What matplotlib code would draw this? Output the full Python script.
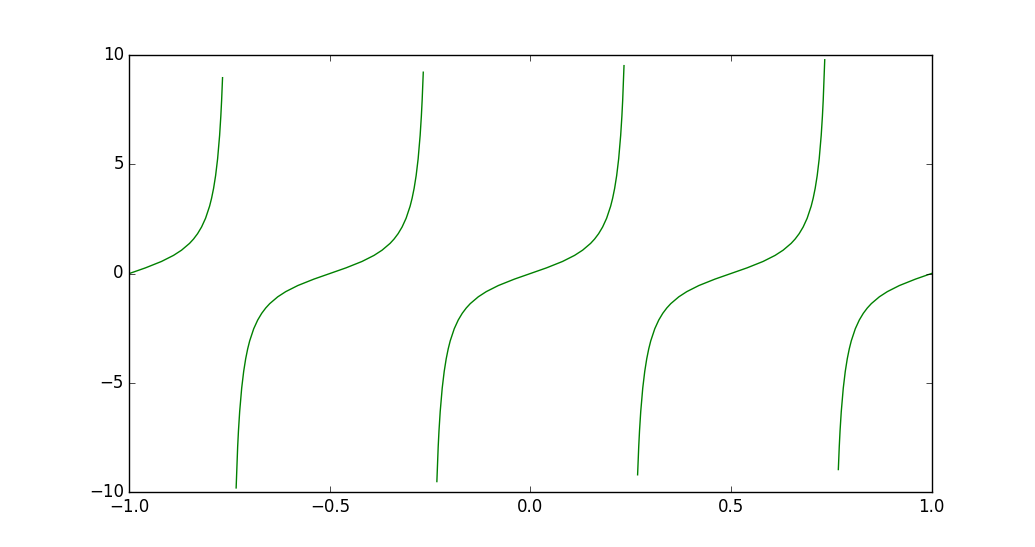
import matplotlib
matplotlib.use("Agg")
import matplotlib.pyplot as plt

# Values, one list per visible branch
b1_x = [-1.0, -0.96, -0.92, -0.89, -0.87, -0.85, -0.84, -0.83, -0.82, -0.81,
        -0.80, -0.795, -0.79, -0.785, -0.78, -0.775, -0.772, -0.77, -0.7677]
b1_y = [0.0, 0.2568, 0.5498, 0.8273, 1.0649, 1.3764, 1.5757, 1.8190, 2.1251, 2.5257,
        3.0777, 3.4420, 3.8947, 4.4737, 5.2422, 6.3138, 7.1880, 7.9158, 8.95]

b2_x = [-0.7338, -0.73, -0.728, -0.725, -0.72, -0.715, -0.71, -0.705, -0.70, -0.69,
        -0.68, -0.67, -0.66, -0.65, -0.63, -0.61, -0.58, -0.54, -0.50, -0.46,
        -0.42, -0.39, -0.37, -0.35, -0.34, -0.33, -0.32, -0.31, -0.30, -0.295,
        -0.29, -0.285, -0.28, -0.275, -0.272, -0.27, -0.2672]
b2_y = [-9.8, -7.9158, -7.1880, -6.3138, -5.2422, -4.4737, -3.8947, -3.4420, -3.0777, -2.5257,
        -2.1251, -1.8190, -1.5757, -1.3764, -1.0649, -0.8273, -0.5498, -0.2568, 0.0, 0.2568,
        0.5498, 0.8273, 1.0649, 1.3764, 1.5757, 1.8190, 2.1251, 2.5257, 3.0777, 3.4420,
        3.8947, 4.4737, 5.2422, 6.3138, 7.1880, 7.9158, 9.2]

b3_x = [-0.2333, -0.23, -0.228, -0.225, -0.22, -0.215, -0.21, -0.205, -0.20, -0.19,
        -0.18, -0.17, -0.16, -0.15, -0.13, -0.11, -0.08, -0.04, 0.0, 0.04,
        0.08, 0.11, 0.13, 0.15, 0.16, 0.17, 0.18, 0.19, 0.20, 0.205,
        0.21, 0.215, 0.22, 0.225, 0.228, 0.23, 0.2333]
b3_y = [-9.51, -7.9158, -7.1880, -6.3138, -5.2422, -4.4737, -3.8947, -3.4420, -3.0777, -2.5257,
        -2.1251, -1.8190, -1.5757, -1.3764, -1.0649, -0.8273, -0.5498, -0.2568, 0.0, 0.2568,
        0.5498, 0.8273, 1.0649, 1.3764, 1.5757, 1.8190, 2.1251, 2.5257, 3.0777, 3.4420,
        3.8947, 4.4737, 5.2422, 6.3138, 7.1880, 7.9158, 9.5]

b4_x = [0.2672, 0.27, 0.272, 0.275, 0.28, 0.285, 0.29, 0.295, 0.30, 0.31,
        0.32, 0.33, 0.34, 0.35, 0.37, 0.39, 0.42, 0.46, 0.50, 0.54,
        0.58, 0.61, 0.63, 0.65, 0.66, 0.67, 0.68, 0.69, 0.70, 0.705,
        0.71, 0.715, 0.72, 0.725, 0.728, 0.73, 0.7338]
b4_y = [-9.2, -7.9158, -7.1880, -6.3138, -5.2422, -4.4737, -3.8947, -3.4420, -3.0777, -2.5257,
        -2.1251, -1.8190, -1.5757, -1.3764, -1.0649, -0.8273, -0.5498, -0.2568, 0.0, 0.2568,
        0.5498, 0.8273, 1.0649, 1.3764, 1.5757, 1.8190, 2.1251, 2.5257, 3.0777, 3.4420,
        3.8947, 4.4737, 5.2422, 6.3138, 7.1880, 7.9158, 9.77]

b5_x = [0.7677, 0.77, 0.772, 0.775, 0.78, 0.785, 0.79, 0.795, 0.80, 0.81,
        0.82, 0.83, 0.84, 0.85, 0.87, 0.89, 0.92, 0.96, 1.0]
b5_y = [-8.96, -7.9158, -7.1880, -6.3138, -5.2422, -4.4737, -3.8947, -3.4420, -3.0777, -2.5257,
        -2.1251, -1.8190, -1.5757, -1.3764, -1.0649, -0.8273, -0.5498, -0.2568, 0.0]

branches = [(b1_x, b1_y), (b2_x, b2_y), (b3_x, b3_y), (b4_x, b4_y), (b5_x, b5_y)]

x_ticks = [-1.0, -0.5, 0.0, 0.5, 1.0]
y_ticks = [-10, -5, 0, 5, 10]

plt.style.use("classic")
fig = plt.figure(figsize=(10.35, 5.47), dpi=100)
ax = fig.add_subplot(111)
for bx, by in branches:
    ax.plot(bx, by, color="g", linewidth=1.0)

ax.set_xlim(-1, 1)
ax.set_ylim(-10, 10)
ax.set_xticks(x_ticks)
ax.set_yticks(y_ticks)

fig.savefig("out.png", dpi=100)
